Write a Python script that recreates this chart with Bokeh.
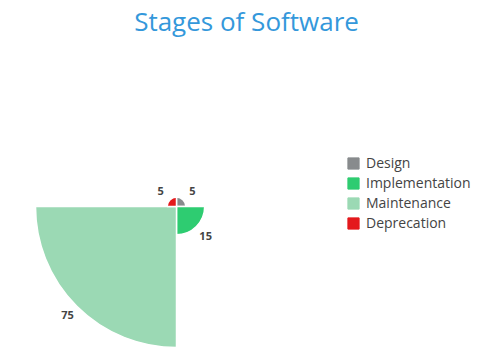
import math
from bokeh.plotting import figure
from bokeh.models import ColumnDataSource, Label, Legend, LegendItem, Range1d
from bokeh.core.properties import value
from bokeh.embed import file_html
from bokeh.resources import INLINE

stages = ["Design", "Implementation", "Maintenance", "Deprecation"]
counts = [5, 15, 75, 5]
colors = ["#888b8d", "#2ecc71", "#9bd9b4", "#e4191c"]

W, H = 492, 358
CX, CY = 176, 152        # centre of the rose, in pixel-like data units
K = 1.88                 # pixels per unit of value
LABEL_OFF = 13

p = figure(width=W, height=H, output_backend="svg", toolbar_location=None,
           x_range=Range1d(0, W), y_range=Range1d(0, H),
           x_axis_location=None, y_axis_location=None, min_border=0)
p.outline_line_color = None
p.xgrid.visible = False
p.ygrid.visible = False

n = len(stages)
step = 2 * math.pi / n
starts = [math.pi / 2 - i * step for i in range(n)]
ends = [s - step for s in starts]
radii = [c * K for c in counts]
mids = [(s + e) / 2 for s, e in zip(starts, ends)]
lx = [CX + (r + LABEL_OFF) * math.cos(m) for r, m in zip(radii, mids)]
ly = [CY + (r + LABEL_OFF) * math.sin(m) for r, m in zip(radii, mids)]

src = ColumnDataSource(dict(x=[CX] * n, y=[CY] * n, r=radii, s=starts, e=ends,
                            color=colors, stage=stages, lx=lx, ly=ly,
                            txt=[str(c) for c in counts]))
p.wedge(x="x", y="y", radius="r", radius_units="screen", start_angle="s",
        end_angle="e", direction="clock", fill_color="color",
        line_color="white", line_width=1.5, source=src)

p.text(x="lx", y="ly", text="txt", source=src, text_align="center",
       text_baseline="middle", text_font=value("Open Sans"),
       text_font_size="11px", text_font_style="bold", text_color="#444444")

p.add_layout(Label(x=W / 2, y=338, text="Stages of Software",
                   text_align="center", text_baseline="middle",
                   text_font="Open Sans", text_font_size="26px",
                   text_color="#3498db"))

nan = float("nan")
lsrc = ColumnDataSource(dict(l=[nan] * n, r=[nan] * n, t=[nan] * n,
                             b=[nan] * n, color=colors))
lr = p.quad(left="l", right="r", top="t", bottom="b", fill_color="color",
            line_color="color", source=lsrc)
items = [LegendItem(label=st, renderers=[lr], index=i)
         for i, st in enumerate(stages)]

legend = Legend(items=items, location=(346, 126), border_line_color=None,
                background_fill_alpha=0, padding=0, margin=0,
                glyph_width=14, glyph_height=14, label_height=14,
                spacing=1, label_standoff=6,
                label_text_font="Open Sans", label_text_font_size="14px",
                label_text_color="#444444")
p.add_layout(legend)

open("out.html", "w").write(file_html(p, INLINE))
